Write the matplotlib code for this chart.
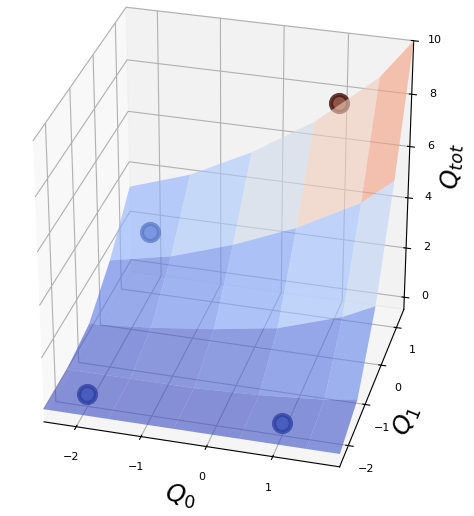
import numpy as np
import matplotlib
matplotlib.use("Agg")
from matplotlib import pyplot as plt

# surface values (rows: Q1, cols: Q0)
q0 = np.array([-2.5, -1.5, -0.5, 0.5, 1.5, 2.0])
q1 = np.array([-2.5, -1.5, -0.5, 0.5, 1.5])
qtot = np.array([
    [0.0, 0.0, 0.0, 0.0, 0.0, 0.0],
    [0.0, 0.0, 0.0, 0.1, 0.3, 0.5],
    [0.3, 0.5, 0.8, 1.2, 2.0, 2.6],
    [1.4, 1.9, 2.7, 3.7, 5.0, 6.0],
    [3.0, 3.8, 5.0, 6.5, 8.5, 10.0],
])

# the four marked points
pts_q0 = [-2.0, 1.0, -2.0]
pts_q1 = [-2.0, -2.0, 1.0]
pts_qtot = [0.0, 0.0, 2.0]
top_pt = (1.0, 1.0, 8.0)

fig = plt.figure(figsize=(4.74, 5.16), dpi=100)
ax = fig.add_axes([-0.08, 0.04, 1.1, 1.0], projection="3d")
X, Y = np.meshgrid(q0, q1)
ax.plot_surface(X, Y, qtot, cmap="coolwarm", alpha=0.6, linewidth=0,
                antialiased=True, vmin=0, vmax=10, shade=False)
ax.scatter(pts_q0, pts_q1, pts_qtot, s=150, color="#2a4aa8", alpha=0.75,
           edgecolors="#15286b", linewidths=3, depthshade=False)
ax.scatter([top_pt[0]], [top_pt[1]], [top_pt[2]], s=150, color="#7a3a2a",
           alpha=0.85, edgecolors="#4a1a12", linewidths=3, depthshade=False)

ax.set_xlim(-2.5, 2)
ax.set_ylim(-2.5, 1.5)
ax.set_zlim(-0.5, 10)
ax.set_xticks([-2, -1, 0, 1])
ax.set_yticks([-2, -1, 0, 1])
ax.set_zticks([0, 2, 4, 6, 8, 10])
ax.tick_params(labelsize=8)
ax.set_xlabel("$Q_0$", fontsize=18, labelpad=2)
ax.set_ylabel("$Q_1$", fontsize=18, labelpad=2)
ax.set_zlabel("$Q_{tot}$", fontsize=18)
ax.view_init(elev=30, azim=-75)
ax.set_box_aspect((1, 1, 1.05))
fig.savefig("out.png")
